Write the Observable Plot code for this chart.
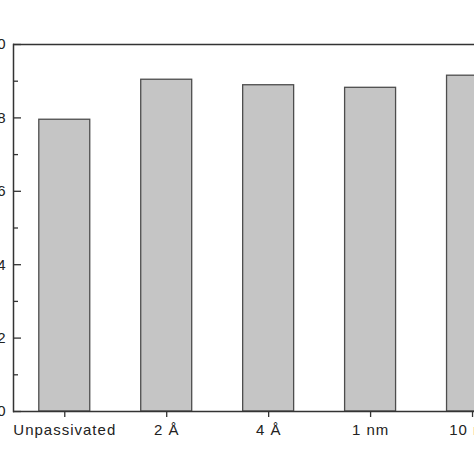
<!DOCTYPE html>
<html>
<head>
<meta charset="utf-8">
<script src="https://cdn.jsdelivr.net/npm/d3@7"></script>
<script src="https://cdn.jsdelivr.net/npm/@observablehq/plot@0.6"></script>
<style>
  html, body { margin: 0; padding: 0; background: #fff; }
  #chart svg { overflow: hidden; }
  .xlab text { letter-spacing: 1px; }
</style>
</head>
<body>
<div id="chart"></div>
<script>
const categories = ["Unpassivated", "2 Å", "4 Å", "1 nm", "10 nm"];
const values = [7.95, 9.04, 8.89, 8.82, 9.15];
const majorTicks = [0, 2, 4, 6, 8, 10];
const minorTicks = [1, 3, 5, 7, 9];

const data = categories.map((c, i) => ({category: c, value: values[i]}));

const chart = Plot.plot({
  width: 474,
  height: 474,
  marginLeft: 13,
  marginRight: 0,
  marginTop: 44,
  marginBottom: 63,
  style: {fontFamily: "Liberation Sans, Arial, sans-serif", fontSize: "15px", color: "#222", background: "#fff"},
  x: {domain: categories, range: [13.3, 523], paddingInner: 0.5, paddingOuter: 0.25, round: false, axis: null},
  y: {domain: [0, 10], axis: null},
  marks: [
    Plot.barY(data, {x: "category", y: "value", fill: "#c5c5c5", stroke: "#4d4d4d", strokeWidth: 1.3}),
    Plot.ruleY([0, 10], {stroke: "#333", strokeWidth: 1.5}),
    Plot.frame({anchor: "left", stroke: "#333", strokeWidth: 1.5}),
    Plot.axisY({ticks: majorTicks, tickSize: -8, tickFormat: () => "", label: null, stroke: "#333", strokeWidth: 1.3}),
    Plot.axisY({ticks: minorTicks, tickSize: -5, tickFormat: () => "", label: null, stroke: "#333", strokeWidth: 1.3}),
    Plot.axisY({ticks: majorTicks, tickSize: 0, tickPadding: 8, tickFormat: d => String(d), label: null, fill: "#222"}),
    Plot.axisX({tickSize: 6, tickPadding: 7, label: null, stroke: "#333", strokeWidth: 1.3, fill: "#222", className: "xlab"})
  ]
});
document.getElementById("chart").appendChild(chart);
</script>
</body>
</html>
